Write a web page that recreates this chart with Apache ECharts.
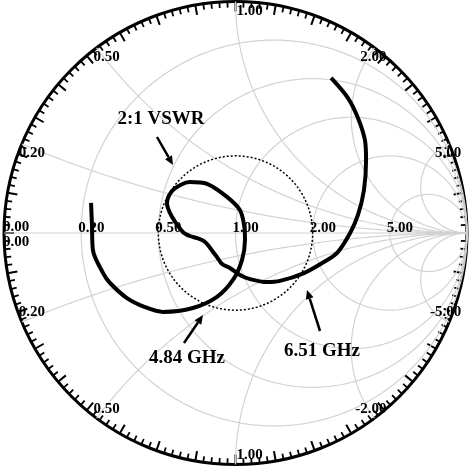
<!DOCTYPE html>
<html><head><meta charset="utf-8">
<script src="https://cdn.jsdelivr.net/npm/echarts@6/dist/echarts.min.js"></script>
<style>html,body{margin:0;padding:0;background:#fff}#c{width:474px;height:470px}</style>
</head><body><div id="c"></div>
<script>
// Smith chart grid values
const resistanceValues = [0.2, 0.5, 1, 2, 5];
const reactanceValues = [0.2, 0.5, 1, 2, 5];
const resistanceLabels = ['0.20', '0.50', '1.00', '2.00', '5.00'];
const reactanceLabelsPos = ['0.20', '0.50', '1.00', '2.00', '5.00'];
const reactanceLabelsNeg = ['0.20', '0.50', '1.00', '-2.00', '-5.00'];
const vswr = 2;
const gammaRe = [-0.624,-0.620,-0.616,-0.572,-0.542,-0.469,-0.391,-0.313,-0.184,-0.080,-0.011,0.028,0.041,0.037,0.019,-0.037,-0.123,-0.197,-0.270,-0.296,-0.274,-0.227,-0.197,-0.166,-0.136,-0.119,-0.097,-0.080,-0.058,-0.024,0.019,0.063,0.136,0.192,0.296,0.374,0.439,0.495,0.529,0.555,0.564,0.559,0.529,0.486,0.413];
const gammaIm = [0.130,0.035,-0.073,-0.173,-0.216,-0.281,-0.320,-0.341,-0.324,-0.276,-0.203,-0.117,-0.030,0.035,0.099,0.156,0.212,0.220,0.186,0.130,0.069,0.004,-0.013,-0.022,-0.035,-0.052,-0.082,-0.104,-0.134,-0.151,-0.181,-0.199,-0.212,-0.207,-0.173,-0.130,-0.086,0.000,0.078,0.186,0.315,0.402,0.497,0.583,0.670];

const CX = 235.5, CY = 233, R = 231.5;
function gamma(r, x) {
  const a = r - 1, b = x, c = r + 1, d = x;
  const den = c * c + d * d;
  return [(a * c + b * d) / den, (b * c - a * d) / den];
}
const grayStyle = { color: '#d2d2d2', width: 1.2 };
const series = [];
resistanceValues.forEach(r => {
  const c = r / (1 + r), rad = 1 / (1 + r), p2 = [];
  for (let i = 0; i <= 360; i++) { const a = i * Math.PI / 180; p2.push([c + rad * Math.cos(a), rad * Math.sin(a)]); }
  series.push({ type: 'line', data: p2, showSymbol: false, silent: true, lineStyle: grayStyle, z: 1 });
});
reactanceValues.forEach(x => {
  [x, -x].forEach(xx => {
    const pts = [];
    for (let i = 0; i <= 400; i++) { const r = Math.tan(Math.PI / 2 * i / 401); pts.push(gamma(r, xx)); }
    pts.push([1, 0]);
    series.push({ type: 'line', data: pts, showSymbol: false, silent: true, lineStyle: grayStyle, z: 1 });
  });
});
series.push({ type: 'line', data: [[-1, 0], [1, 0]], showSymbol: false, lineStyle: grayStyle, z: 1 });
const g = (vswr - 1) / (vswr + 1), vs = [];
for (let i = 0; i <= 360; i++) { const a = i * Math.PI / 180; vs.push([g * Math.cos(a), g * Math.sin(a)]); }
series.push({ type: 'line', data: vs, showSymbol: false, lineStyle: { color: '#000', width: 1.5, type: [2, 2] }, z: 3 });
series.push({ type: 'line', data: gammaRe.map((u, i) => [u, gammaIm[i]]), showSymbol: false, smooth: 0.3,
  lineStyle: { color: '#000', width: 4 }, z: 5 });

const font = 'bold 15px "Liberation Serif", "DejaVu Serif", serif';
const gfx = [];
function txt(x, y, s, align, valign, f) {
  gfx.push({ type: 'text', x: x, y: y, z: 10, style: { text: s, font: f || font, fill: '#000', textAlign: align, textVerticalAlign: valign } });
}
txt(3, 235, '0.00', 'left', 'bottom');
txt(3, 235, '0.00', 'left', 'top');
resistanceValues.forEach((r, i) => txt(CX + R * (r - 1) / (r + 1) - 3, 236, resistanceLabels[i], 'left', 'bottom'));
reactanceValues.forEach((x, i) => {
  const ang = Math.PI - 2 * Math.atan(x);
  const px = CX + R * Math.cos(ang), py = CY - R * Math.sin(ang), qy = CY + R * Math.sin(ang);
  let align = x <= 1 ? 'left' : 'right';
  let dx = x < 1 ? -3 : (x > 1 ? 12 : 1);
  txt(px + dx, py + 2, reactanceLabelsPos[i], align, 'top');
  txt(px + dx, qy - 2, reactanceLabelsNeg[i], align, 'bottom');
});
const big = 'bold 19px "Liberation Serif", "DejaVu Serif", serif';
txt(161, 119, '2:1 VSWR', 'center', 'middle', big);
txt(187, 358, '4.84 GHz', 'center', 'middle', big);
txt(322, 351, '6.51 GHz', 'center', 'middle', big);
function arrow(x1, y1, x2, y2) {
  const a = Math.atan2(y2 - y1, x2 - x1), L = 9, W = 4;
  const bx = x2 - L * Math.cos(a), by = y2 - L * Math.sin(a);
  gfx.push({ type: 'line', z: 10, shape: { x1: x1, y1: y1, x2: bx, y2: by }, style: { stroke: '#000', lineWidth: 2.5 } });
  gfx.push({ type: 'polygon', z: 10, shape: { points: [[x2, y2], [bx - W * Math.sin(a), by + W * Math.cos(a)], [bx + W * Math.sin(a), by - W * Math.cos(a)]] }, style: { fill: '#000' } });
}
arrow(157, 137, 173, 165);
arrow(184, 343, 203, 315);
arrow(320, 331, 307, 290);

const chart = echarts.init(document.getElementById('c'));
chart.setOption({
  animation: false,
  grid: { left: CX - R, top: CY - R, width: 2 * R, height: 2 * R },
  xAxis: { type: 'value', min: -1, max: 1, show: false },
  yAxis: { type: 'value', min: -1, max: 1, show: false },
  polar: { center: [CX, CY], radius: R },
  angleAxis: { type: 'value', min: 0, max: 360, interval: 10, startAngle: 0,
    axisLine: { lineStyle: { color: '#000', width: 3 } },
    axisTick: { inside: true, length: 10, lineStyle: { color: '#000', width: 2 } },
    minorTick: { show: true, splitNumber: 5, length: 6, lineStyle: { color: '#000', width: 1.8 } },
    axisLabel: { show: false }, splitLine: { show: false } },
  radiusAxis: { show: false, min: 0, max: 1 },
  series: series,
  graphic: gfx
});
</script></body></html>
